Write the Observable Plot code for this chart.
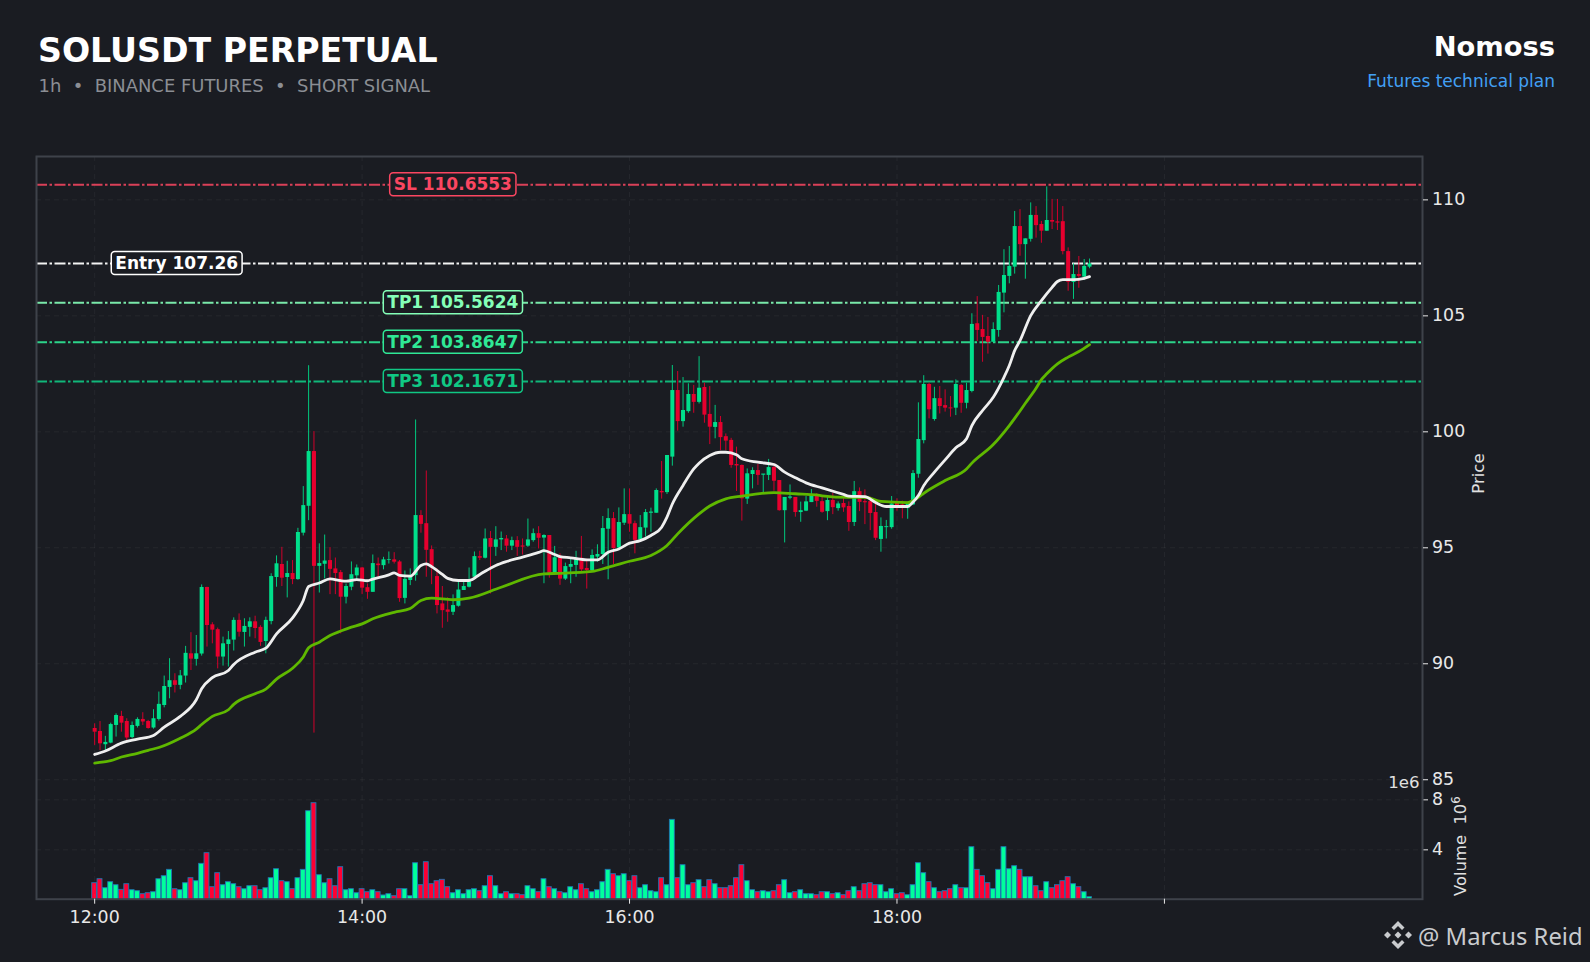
<!DOCTYPE html>
<html>
<head>
<meta charset="utf-8">
<script src="https://cdn.jsdelivr.net/npm/d3@7"></script>
<script src="https://cdn.jsdelivr.net/npm/@observablehq/plot@0.6"></script>
<style>
html,body{margin:0;padding:0;background:#1a1c22;}
#page{position:relative;width:1590px;height:962px;overflow:hidden;background:#1a1c22;font-family:"DejaVu Sans",sans-serif;}
.t{position:absolute;white-space:nowrap;}
#title{left:38px;top:28.5px;font-size:33.2px;font-weight:700;color:#fff;line-height:44px;}
#sub{left:38.5px;top:74px;font-size:17.95px;color:#8b8e94;line-height:24px;white-space:pre;}
#brand{right:35px;top:29px;font-size:27.3px;font-weight:700;color:#fff;line-height:36px;}
#tag{right:35px;top:69px;font-size:17px;color:#42a0f5;line-height:24px;}
#mark{left:1418px;top:920px;font-family:"Noto Sans",sans-serif;font-size:23.8px;line-height:32px;color:#c9cbce;}
#logo{position:absolute;left:1384px;top:921px;width:28px;height:28px;}
</style>
</head>
<body>
<div id="page">
  <div class="t" id="title">SOLUSDT PERPETUAL</div>
  <div class="t" id="sub">1h  •  BINANCE FUTURES  •  SHORT SIGNAL</div>
  <div class="t" id="brand">Nomoss</div>
  <div class="t" id="tag">Futures technical plan</div>
  <div class="chart" id="chart"></div>
  <svg id="logo" viewBox="-14 -14 28 28"><g fill="#c9cbce">
    <path d="M0 -14L6.5 -7.5L4 -5L0 -9L-4 -5L-6.5 -7.5Z"/><path d="M0 14L6.5 7.5L4 5L0 9L-4 5L-6.5 7.5Z"/>
    <path d="M-14 0L-10.5 -3.5L-7 0L-10.5 3.5Z"/><path d="M14 0L10.5 -3.5L7 0L10.5 3.5Z"/><path d="M0 -3.5L3.5 0L0 3.5L-3.5 0Z"/></g></svg>
  <div class="t" id="mark">@ Marcus Reid</div>
</div>
<script>
const highs = [
87.41,87.51,86.87,87.44,87.84,87.95,87.63,87.49,87.67,87.89,
87.56,88.02,88.78,89.47,90.22,89.57,89.71,90.75,91.34,91.22,
93.40,93.30,91.77,91.54,91.15,91.39,91.98,92.15,91.94,91.98,
92.05,91.64,92.01,93.88,94.65,95.02,94.42,94.45,95.84,97.64,
102.85,100.01,95.17,95.55,95.01,94.56,94.02,93.44,94.39,94.26,
94.16,93.44,94.69,94.56,94.59,94.82,94.79,94.45,94.00,94.09,
100.51,96.60,98.31,95.08,94.09,93.33,92.84,92.97,93.51,93.59,
94.13,94.82,94.85,95.81,95.70,95.91,95.68,95.53,95.46,95.48,
95.38,96.24,95.81,95.91,95.56,95.53,95.06,94.74,94.34,94.54,
94.85,95.49,94.52,94.91,95.13,96.35,96.68,96.52,96.72,97.54,
97.54,96.15,96.39,96.65,96.71,97.54,98.72,98.98,102.86,102.60,
102.34,102.07,102.00,103.24,102.10,101.95,101.14,100.66,99.91,99.72,
99.34,98.57,98.40,98.45,98.59,98.16,98.81,98.62,97.90,97.17,
97.71,97.17,96.97,97.21,97.51,97.33,97.21,97.18,97.35,96.98,
97.11,96.98,97.86,97.58,97.50,97.18,96.98,96.29,96.18,97.21,
97.11,97.01,96.96,98.33,101.25,102.42,102.10,101.92,101.95,101.81,
101.52,102.24,102.04,102.10,105.09,105.83,105.02,104.93,104.70,106.31,
107.85,107.99,109.50,109.58,108.32,109.87,109.71,109.07,110.56,110.02,
110.02,109.71,107.93,107.24,107.56,107.43,107.45];
const lows = [
86.48,86.26,86.24,86.55,86.84,87.05,86.67,86.77,87.23,87.34,
87.18,87.18,87.53,88.10,88.49,88.74,88.88,89.17,89.71,89.90,
90.33,90.72,90.86,89.78,89.90,89.86,90.55,91.15,90.72,91.15,
91.08,90.75,90.43,91.68,93.30,93.33,92.84,93.41,93.60,95.51,
96.17,87.01,93.05,93.66,92.98,92.98,91.29,92.58,93.15,93.59,
92.98,92.78,93.08,93.73,94.05,94.30,94.30,92.65,92.58,93.37,
93.56,95.63,93.73,93.41,92.15,91.53,91.79,92.08,92.44,93.16,
93.27,93.66,94.45,94.52,93.01,94.63,94.88,94.81,94.88,94.63,
94.69,95.02,95.24,94.95,93.45,93.69,93.81,93.38,93.59,93.45,
93.73,93.93,93.22,93.95,94.38,94.28,93.62,94.28,94.88,95.96,
95.67,94.74,95.29,95.46,95.67,96.49,97.10,97.30,98.52,100.03,
100.20,100.80,100.80,101.20,100.37,99.45,99.70,99.19,99.19,98.43,
97.43,96.15,96.87,97.54,97.69,97.35,97.90,97.44,96.58,95.21,
97.07,96.32,96.10,96.56,96.95,96.75,96.49,96.17,96.43,96.58,
96.53,95.71,95.92,96.56,96.00,95.74,95.31,94.81,95.38,95.80,
96.58,96.25,96.23,96.82,98.00,99.48,100.56,100.46,100.77,100.85,
100.63,100.70,100.80,100.99,101.68,103.89,103.00,103.35,103.86,104.08,
105.13,106.38,106.80,107.57,106.58,108.18,108.35,108.13,108.65,108.72,
108.68,107.63,106.06,105.71,106.19,106.52,107.03];
const opens = [
87.21,87.08,86.51,86.58,87.34,87.73,87.51,86.82,87.30,87.60,
87.51,87.23,87.60,88.20,88.98,89.27,89.07,89.47,90.43,90.19,
90.42,93.29,91.68,91.47,90.29,90.83,91.02,91.87,91.35,91.57,
91.81,91.57,90.96,91.82,93.72,94.28,93.72,93.89,93.63,95.63,
96.79,99.15,94.20,94.29,94.45,94.09,93.93,92.87,93.30,93.79,
94.13,93.28,93.08,94.30,94.23,94.46,94.48,94.39,92.82,93.59,
93.80,96.39,96.04,94.92,93.76,92.58,92.32,92.22,92.48,93.16,
93.30,93.73,94.62,94.55,95.40,95.02,95.34,95.38,95.07,95.31,
95.08,95.07,95.31,95.61,95.42,95.53,93.90,94.57,93.65,94.16,
94.24,94.55,94.11,94.02,94.60,94.71,95.80,96.26,94.99,96.06,
96.43,96.04,95.34,95.85,96.49,96.49,97.43,97.38,98.91,101.78,
100.44,100.87,101.61,101.27,101.91,100.75,100.19,100.40,99.79,99.63,
98.59,98.55,97.10,98.16,98.33,98.13,98.12,98.46,97.90,96.60,
97.14,97.17,96.52,96.58,96.95,97.21,96.99,96.56,97.04,96.69,
96.91,96.78,96.09,97.42,96.99,96.99,96.52,95.36,95.87,95.87,
96.95,96.85,96.69,96.85,98.17,99.62,102.04,100.53,101.43,101.13,
101.03,101.02,102.00,101.23,101.74,104.66,104.41,104.11,103.86,104.37,
105.98,106.70,107.10,108.85,108.07,108.30,109.33,108.94,108.65,109.11,
109.05,109.06,107.77,106.44,106.78,106.67,107.10];
const closes = [
87.05,86.55,86.61,87.38,87.77,87.44,86.80,87.34,87.60,87.49,
87.21,87.63,88.25,89.02,89.27,89.07,89.48,90.45,90.20,90.43,
93.29,91.65,91.45,90.29,90.86,91.03,91.87,91.36,91.61,91.81,
91.52,90.92,91.87,93.76,94.31,93.69,93.89,93.63,95.66,96.82,
99.15,94.20,94.32,94.43,94.07,93.89,92.87,93.33,93.84,94.13,
93.26,93.08,94.32,94.23,94.48,94.49,94.38,92.81,93.64,93.76,
96.39,96.01,94.89,94.13,92.51,92.29,92.22,92.51,93.18,93.33,
93.54,94.62,94.55,95.38,95.02,95.34,95.40,95.07,95.31,95.02,
95.03,95.34,95.61,95.41,95.53,93.90,94.57,93.65,94.19,94.28,
94.52,94.05,94.02,94.67,94.71,95.83,96.26,94.97,96.09,96.43,
96.02,95.32,95.87,96.52,96.54,97.47,97.37,98.98,101.78,100.44,
100.92,101.61,101.27,101.88,100.72,100.20,100.40,99.75,99.60,98.55,
98.53,97.11,98.19,98.33,98.12,98.18,98.46,97.87,96.60,97.17,
97.19,96.52,96.60,96.98,97.30,97.00,96.53,97.04,96.73,96.89,
96.72,96.09,97.42,96.96,96.94,96.48,95.41,95.92,95.91,96.89,
96.78,96.78,96.96,98.20,99.67,102.04,100.95,101.43,101.09,101.02,
100.99,102.04,101.23,101.78,104.63,104.37,104.07,103.86,104.41,106.01,
106.74,107.13,108.85,108.07,108.32,109.33,108.89,108.65,109.11,109.04,
109.00,107.77,106.45,106.78,106.70,107.13,107.24];
// Volume in units of 10^6
const volumes = [
1.33,1.65,.93,1.41,1.17,.80,1.25,.77,.69,.45,
.53,.61,1.65,1.89,2.40,.85,.77,1.33,1.73,1.49,
2.88,3.73,1.01,2.13,1.17,1.41,1.25,1.01,.85,1.09,
1.09,.77,.93,1.73,2.45,1.49,1.41,.85,1.73,2.40,
7.09,7.73,1.97,1.33,1.65,1.09,2.61,.77,.85,.53,
.85,.61,.77,.61,.35,.45,.29,.85,.85,.29,
2.93,1.17,3.01,1.25,1.49,1.60,1.01,.53,.77,.45,
.77,.85,.69,1.09,1.89,1.09,.45,.61,.45,.45,
.37,1.09,.85,.61,1.65,1.01,.85,.61,.53,1.01,
.77,1.25,.85,.61,.77,1.41,2.40,2.05,1.89,2.05,
1.49,1.89,.93,1.17,.69,.61,1.73,1.17,6.40,1.73,
2.77,1.17,1.33,1.57,1.01,1.57,1.25,.93,.93,1.09,
1.73,2.77,1.49,.77,.61,.69,.61,.69,1.17,1.57,
.53,.61,.77,.45,.45,.37,.61,.61,.45,.53,
.37,.69,1.01,.69,1.25,1.33,1.17,1.17,.61,.85,
.45,.53,.37,1.17,2.93,2.13,1.41,.93,.61,.69,
.85,1.17,.93,.93,4.21,2.40,1.89,1.33,.85,2.40,
4.21,2.45,2.69,2.40,1.81,1.81,1.09,.69,1.41,.93,
1.17,1.49,1.81,1.25,1.01,.61,.21];

const fastIdx = [0,2,5,8,11,13,16,19,20,22,25,26,30,32,34,37,39,40,42,44,46,47,49,51,52,55,56,57,59,61,62,63,65,66,68,70,72,75,77,80,83,84,86,87,89,92,94,96,98,100,102,104,106,107,108,110,112,113,115,117,118,120,121,124,127,129,131,133,136,140,141,144,146,148,152,153,154,155,157,159,161,163,164,166,168,170,171,172,173,175,177,179,180,181,183,185,186];
const fastEma = [86.09,86.24,86.58,86.75,86.91,87.27,87.73,88.45,88.92,89.40,89.71,89.97,90.50,90.67,91.29,91.98,92.73,93.33,93.48,93.66,93.58,93.56,93.63,93.58,93.65,93.83,93.92,93.81,93.78,94.24,94.31,94.19,93.85,93.68,93.59,93.59,93.85,94.24,94.41,94.60,94.80,94.88,94.71,94.62,94.57,94.48,94.48,94.81,94.95,95.20,95.31,95.53,95.89,96.32,96.89,97.69,98.40,98.65,98.98,99.12,99.12,99.01,98.84,98.69,98.59,98.26,98.02,97.80,97.58,97.30,97.23,97.21,96.95,96.78,96.78,96.97,97.25,97.68,98.26,98.79,99.31,99.70,100.27,100.92,101.49,102.35,102.86,103.50,103.93,105.01,105.66,106.23,106.48,106.56,106.56,106.62,106.69];
const slowIdx = [0,3,5,8,10,12,16,19,20,22,25,26,30,32,34,37,39,40,42,44,46,48,50,52,56,59,61,63,67,70,76,84,87,93,96,100,104,107,109,113,115,118,121,127,131,135,136,141,144,147,152,154,155,159,163,164,168,171,173,174,176,177,178,180,182,184,186];
const slowEma = [85.72,85.82,85.98,86.14,86.27,86.39,86.79,87.18,87.38,87.73,88.02,88.25,88.71,88.91,89.34,89.81,90.29,90.69,90.93,91.22,91.41,91.58,91.72,91.94,92.22,92.38,92.73,92.83,92.76,92.83,93.30,93.88,93.90,93.98,94.16,94.42,94.67,95.10,95.60,96.46,96.80,97.11,97.23,97.38,97.33,97.28,97.24,97.17,97.18,97.00,96.95,97.18,97.35,97.90,98.40,98.65,99.45,100.27,100.90,101.23,101.88,102.25,102.50,102.93,103.22,103.46,103.76];

const levelNames = ["SL","Entry","TP1","TP2","TP3"];
const levelPrices = [110.6553,107.26,105.5624,103.8647,102.1671];
const levelLabels = ["SL 110.6553","Entry 107.26","TP1 105.5624","TP2 103.8647","TP3 102.1671"];
const levelColors = ["#fb4661","#ffffff","#84ffb8","#2fe896","#10c884"];
const levelLineOpacity = [0.85,0.95,0.9,0.9,0.9];
const levelLabelMinutes = [160.7,36.8,160.7,160.7,160.7];
const priceTicks = [85,90,95,100,105,110];
const volumeTicks = [4,8];
const timeTickHours = [12,14,16,18,20];

const BG = "#1a1c22";
const t0 = Date.UTC(2024,0,1,12);
const MIN = 60000;
const timeAt = i => new Date(t0 + i*2.4*MIN);
const candles = closes.map((c,i)=>({t:timeAt(i),open:opens[i],close:c,high:highs[i],low:lows[i],vol:volumes[i],
  x1:new Date(t0+(i*2.4-1.1)*MIN),x2:new Date(t0+(i*2.4+1.1)*MIN)}));
const up = candles.filter(d=>d.close>=d.open), down = candles.filter(d=>d.close<d.open);
const fast = fastIdx.map((i,k)=>({t:timeAt(i),v:fastEma[k]}));
const slow = slowIdx.map((i,k)=>({t:timeAt(i),v:slowEma[k]}));
const levels = levelNames.map((n,i)=>({n,p:levelPrices[i],label:levelLabels[i],color:levelColors[i],op:levelLineOpacity[i],t:new Date(t0+levelLabelMinutes[i]*MIN)}));
const timeTicks = timeTickHours.map(h=>new Date(Date.UTC(2024,0,1,h)));
const xDomain = [new Date(t0-26.1*MIN), new Date(t0+595.8*MIN)];
const common = {width:1590,height:822,marginTop:16,marginBottom:63.3,marginLeft:36,marginRight:168,
  style:{background:"transparent",color:"#e8e8e8",fontFamily:"'DejaVu Sans',sans-serif",fontSize:"17.4px",overflow:"visible",position:"absolute",left:"0",top:"140px"}};
const gridStyle = {stroke:"#ffffff",strokeOpacity:0.05,strokeDasharray:"5 4",strokeWidth:1};

const volumePlot = Plot.plot({...common,
  x:{type:"utc",domain:xDomain,axis:null},
  y:{domain:[0.05,59.47],axis:null},
  marks:[
    Plot.gridY(volumeTicks,gridStyle),
    Plot.axisY({anchor:"right",ticks:volumeTicks,tickSize:5,tickPadding:4.5,label:null,tickFormat:d=>d,stroke:"#e8e8e8",fill:"#e8e8e8"}),
    Plot.rectY(up,{x1:"x1",x2:"x2",y:"vol",fill:"#00ff9c",stroke:"#1f77b4",strokeWidth:0.9}),
    Plot.rectY(down,{x1:"x1",x2:"x2",y:"vol",fill:"#ff0033",stroke:"#1f77b4",strokeWidth:0.9}),
    Plot.text(["1e6"],{y:[9.35],frameAnchor:"right",textAnchor:"end",dx:-3,fill:"#e0e0e0",fontSize:16.6}),
    Plot.text(["Volume  10⁶"],{y:[4.3],frameAnchor:"right",textAnchor:"middle",dx:38,rotate:-90,fill:"#e0e0e0",fontSize:16.4,className:"vol-label"})
  ]
});

const pricePlot = Plot.plot({...common,
  x:{type:"utc",domain:xDomain,axis:null},
  y:{domain:[79.85,111.87],axis:null},
  marks:[
    Plot.gridY(priceTicks,gridStyle),
    Plot.gridX(timeTicks,gridStyle),
    Plot.ruleY(levels,{y:"p",stroke:"color",strokeOpacity:"op",strokeWidth:2,strokeDasharray:"11 2.5 2.5 2.5"}),
    Plot.ruleX(up,{x:"t",y1:"low",y2:"high",stroke:"#00c97e",strokeWidth:1}),
    Plot.ruleX(down,{x:"t",y1:"low",y2:"high",stroke:"#d1002b",strokeWidth:1}),
    Plot.ruleX(up,{x:"t",y1:"open",y2:"close",stroke:"#00df8b",strokeWidth:4}),
    Plot.ruleX(down,{x:"t",y1:"open",y2:"close",stroke:"#e6002e",strokeWidth:4}),
    Plot.line(slow,{x:"t",y:"v",stroke:"#5fb800",strokeWidth:2.8,curve:"monotone-x"}),
    Plot.line(fast,{x:"t",y:"v",stroke:"#efefef",strokeWidth:2.8,curve:"monotone-x"}),
    Plot.text(levels,{x:"t",y:"p",text:"label",fill:"color",fontWeight:700,fontSize:17,className:"ref-label"}),
    Plot.frame({stroke:"#3e424a",strokeWidth:2}),
    Plot.axisX({ticks:timeTicks,tickSize:5,tickPadding:6,label:null,stroke:"#e8e8e8",fill:"#e8e8e8",
      tickFormat:d=>d.getUTCHours()===20?"":d3.utcFormat("%H:%M")(d)}),
    Plot.axisY({anchor:"right",ticks:priceTicks,tickSize:5,tickPadding:4.5,label:null,tickFormat:d=>d,stroke:"#e8e8e8",fill:"#e8e8e8"}),
    Plot.text(["Price"],{y:[98.2],frameAnchor:"right",textAnchor:"middle",dx:56,rotate:-90,fill:"#e0e0e0",fontSize:16.6})
  ]
});
const chart = document.getElementById("chart");
chart.append(volumePlot,pricePlot);

// Rounded boxes behind the level labels, sized from the rendered text
d3.select(pricePlot).selectAll(".ref-label text").each(function(){
  const bb = this.getBBox();
  const col = this.getAttribute("fill");
  const r = document.createElementNS("http://www.w3.org/2000/svg","rect");
  r.setAttribute("x",bb.x-4); r.setAttribute("y",bb.y-1.4);
  r.setAttribute("width",bb.width+8); r.setAttribute("height",bb.height+3);
  r.setAttribute("rx",3.5); r.setAttribute("fill",BG); r.setAttribute("stroke",col); r.setAttribute("stroke-width",1.5);
  if(this.getAttribute("transform")) r.setAttribute("transform",this.getAttribute("transform"));
  this.parentNode.insertBefore(r,this);
});
// Superscript exponent on the volume axis title
d3.select(volumePlot).selectAll(".vol-label text").each(function(){
  const s = d3.select(this);
  s.text(null);
  s.append("tspan").style("white-space","pre").text("Volume  10");
  s.append("tspan").attr("dy","-0.45em").attr("font-size","0.72em").text("6");
});
</script>
</body>
</html>
